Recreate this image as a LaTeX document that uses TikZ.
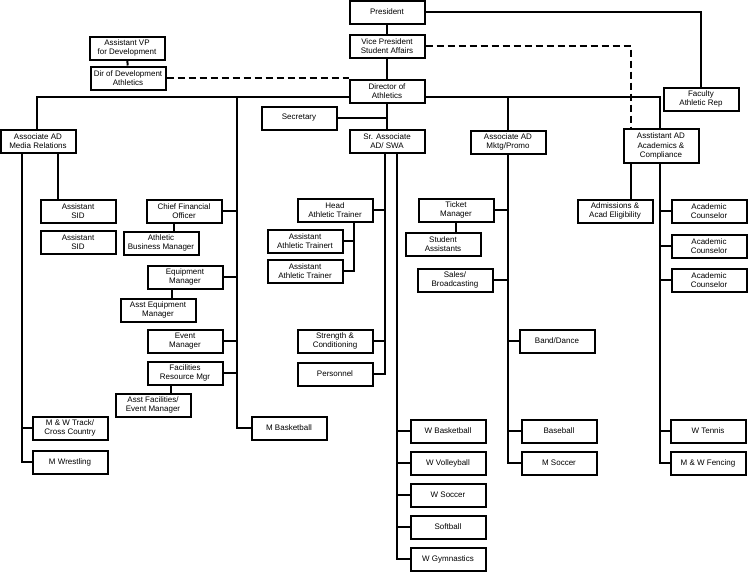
\documentclass[tikz,border=0pt]{standalone}
\usepackage{fontspec}
\setmainfont{Liberation Sans}
\tikzset{
  box/.style={draw, line width=2pt, minimum width=75pt, minimum height=23pt,
    inner sep=0pt, align=center, font=\fontsize{8}{9.5}\selectfont},
  link/.style={line width=2pt},
  dash link/.style={line width=2pt, dash pattern=on 7pt off 4pt},
}
\begin{document}
\begin{tikzpicture}[x=1pt,y=-1pt]
    \useasboundingbox[fill=white] (0,0) rectangle (748,573);
    \foreach \n/\x/\y/\t in {
    pres/387/12/{President},
    vp/387/46/{Vice President\\Student Affairs},
    dir/387/91/{Director of\\Athletics},
    avp/127/48/{Assistant VP\\for Development},
    ddev/128/78/{Dir of Development\\Athletics},
    far/701/99/{Faculty\\Athletic Rep},
    sec/299/118/{Secretary},
    sr/387/141/{Sr. Associate\\AD/ SWA},
    media/38/141/{Associate AD\\Media Relations},
    mktg/508/142/{Associate AD\\Mktg/Promo},
    sid1/78/211/{Assistant\\SID},
    sid2/78/242/{Assistant\\SID},
    cfo/184/211/{Chief Financial\\Officer},
    abm/161/243/{Athletic\\Business Manager},
    equip/185/277/{Equipment\\Manager},
    aeq/158/310/{Asst Equipment\\Manager},
    event/185/341/{Event\\Manager},
    fac/185/373/{Facilities\\Resource Mgr},
    afac/153/405/{Asst Facilities/\\Event Manager},
    track/70/428/{M \& W Track/\\Cross Country},
    wres/70/462/{M Wrestling},
    mbb/289/428/{M Basketball},
    head/335/210/{Head\\Athletic Trainer},
    at1/305/241/{Assistant\\Athletic Trainert},
    at2/305/271/{Assistant\\Athletic Trainer},
    sc/335/341/{Strength \&\\Conditioning},
    pers/335/374/{Personnel},
    wbb/448/431/{W Basketball},
    wvb/448/463/{W Volleyball},
    wsoc/448/495/{W Soccer},
    soft/448/527/{Softball},
    wgym/448/559/{W Gymnastics},
    ticket/456/210/{Ticket\\Manager},
    stud/443/244/{Student\\Assistants},
    sales/455/280/{Sales/\\Broadcasting},
    band/557/341/{Band/Dance},
    base/559/431/{Baseball},
    msoc/559/463/{M Soccer},
    adm/615/211/{Admissions \&\\Acad Eligibility},
    ac1/709/211/{Academic\\Counselor},
    ac2/709/246/{Academic\\Counselor},
    ac3/709/280/{Academic\\Counselor},
    wten/708/431/{W Tennis},
    fenc/708/463/{M \& W Fencing}}{
        \node[box] (\n) at (\x,\y) {\t};
    }
    \node[box, minimum height=34pt] (acad) at (661,146) {Asstistant AD\\Academics \&\\Compliance};
    \coordinate (busL) at (37,97);
    \coordinate (busR) at (660,97);
    \coordinate (finT) at (237,97);
    % top of the chart
    \draw[link] (pres) -- (vp) -- (dir) -- (sr);
    \draw[link] (pres.east) -| (far.north);
    \draw[link] (avp) -- (ddev);
    \draw[dash link] (ddev.east) -- (ddev.east-|dir.west);
    \draw[dash link] (vp.east) -| ([xshift=-30pt]acad.north);
    \draw[link] (busL|-media.north) -- (busL) -- (busL-|dir.west);
    \draw[link] (busR-|dir.east) -- (busR) -- (busR|-acad.north);
    \draw[link] (mktg.north) -- (mktg.north|-busL);
    \draw[link] (sec.east) -- (sec.east-|dir);
    % media relations
    \draw[link] ([xshift=-16pt]media.south) |- (wres.west);
    \draw[link] (track.west) -- ++(-10,0);
    \draw[link] ([xshift=20pt]media.south) -- ([xshift=-20pt]sid1.north);
    % finance and operations
    \draw[link] (finT) |- (mbb.west);
    \foreach \n/\d in {cfo/15, equip/14, event/14, fac/14}{
        \draw[link] (\n.east) -- ++(\d,0);
    }
    \draw[link] ([xshift=-10pt]cfo.south) -- ([xshift=13pt]abm.north);
    \draw[link] ([xshift=-13pt]equip.south) -- ([xshift=14pt]aeq.north);
    \draw[link] ([xshift=-14pt]fac.south) -- ([xshift=18pt]afac.north);
    % senior associate
    \draw[link] ([xshift=-2pt]sr.south) |- (pers.east);
    \draw[link] (head.east) -- ++(12,0);
    \draw[link] (sc.east) -- ++(12,0);
    \draw[link] ([xshift=19pt]head.south) |- (at2.east);
    \draw[link] (at1.east) -- ++(11,0);
    \draw[link] ([xshift=10pt]sr.south) |- (wgym.west);
    \foreach \n in {wbb, wvb, wsoc, soft}{
        \draw[link] (\n.west) -- ++(-13,0);
    }
    % marketing
    \draw[link] (mktg.south) |- (msoc.west);
    \draw[link] (ticket.east) -- ++(14,0);
    \draw[link] (sales.east) -- ++(15,0);
    \draw[link] (ticket.south) -- (ticket.south|-stud.north);
    \draw[link] (band.west) -- ++(-12,0);
    \draw[link] (base.west) -- ++(-13,0);
    % academics
    \draw[link] ([xshift=-30pt]acad.south) -- ([xshift=16pt]adm.north);
    \draw[link] ([xshift=-1pt]acad.south) |- (fenc.west);
    \foreach \n in {ac1, ac2, ac3, wten}{
        \draw[link] (\n.west) -- ++(-11,0);
    }
\end{tikzpicture}
\end{document}
